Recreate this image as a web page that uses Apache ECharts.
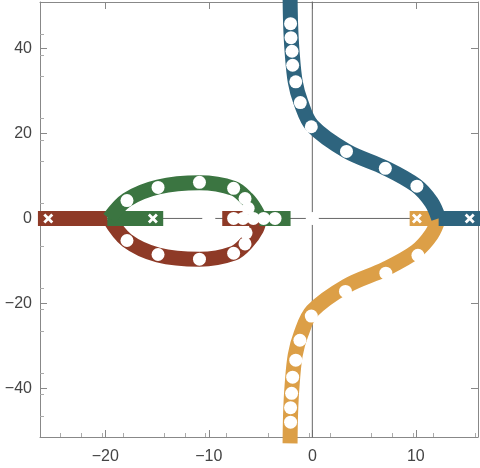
<!DOCTYPE html>
<html><head><meta charset="utf-8">
<script src="https://cdn.jsdelivr.net/npm/echarts@6/dist/echarts.min.js"></script>
<style>html,body{margin:0;padding:0;background:#fff}#c{width:480px;height:468px}</style>
</head><body><div id="c"></div>
<script>
const xTicks = [-20, -10, 0, 10];
const yTicks = [-40, -20, 0, 20, 40];
const blueCurve = [[-2.15,53],[-2.1,46],[-1.96,39.5],[-1.65,32.2],[-1.1,27.3],[0,21.8],[3.3,15.9],[7.05,11.9],[10.0,7.8],[11.5,3.8],[12.2,0]];
const blueAxis = [[12.2,0],[16.5,0]];
const orangeCurve = [[-2.15,-53],[-2.1,-46],[-1.96,-39.5],[-1.65,-32.2],[-1.1,-27.3],[0,-21.8],[3.3,-15.9],[7.05,-11.9],[10.0,-7.8],[11.5,-3.8],[12.2,0]];
const orangeAxis = [[9.4,0],[12.2,0]];
const greenLoop = [[-19.6,0],[-17.9,4.4],[-14.9,7.4],[-10.9,8.4],[-7.6,7.1],[-6.3,4.6],[-5.5,2],[-5.1,0]];
const greenAxis = [[-19.8,0],[-14.4,0]];
const greenAxis2 = [[-5.1,0],[-2.1,0]];
const redLoop = [[-19.6,0],[-17.9,-5.2],[-14.9,-8.6],[-10.9,-9.6],[-7.6,-8.2],[-6.3,-5.6],[-5.4,-2.5],[-5.1,0]];
const redAxis = [[-26.5,0],[-19.8,0]];
const redAxis2 = [[-8.7,0],[-5.1,0]];
const dots = [[-2.1,45.9],[-2.06,42.6],[-1.96,39.4],[-1.9,36.1],[-1.6,32.2],[-1.16,27.3],[-0.1,21.6],[3.3,15.8],[7.05,11.8],[10.1,7.6],
  [-2.1,-48],[-2.1,-44.6],[-2.0,-41.2],[-1.9,-37.4],[-1.6,-33.4],[-1.2,-28.7],[-0.1,-23],[3.2,-17.2],[7.1,-12.9],[10.2,-8.7],
  [-17.9,4.2],[-14.9,7.3],[-10.9,8.5],[-7.6,7.1],[-6.5,4.7],[-6.2,2.4],
  [-17.9,-5.2],[-14.9,-8.5],[-10.9,-9.6],[-7.6,-8.2],[-6.5,-6.0],[-6.4,-3.4],
  [-7.6,0],[-6.7,0],[-5.7,0],[-4.7,0],[-3.6,0],[-10,0],[0,0]];
const crosses = [[-25.5,0],[-15.4,0],[10.1,0],[15.2,0]];
const W = 15;
function ln(data, color, smooth){return {type:'line',data,smooth:smooth?0.35:false,symbol:'none',lineStyle:{width:W,color,cap:'butt',opacity:1},z:3,silent:true};}
const tl = {color:'#444',fontSize:16,fontFamily:'Liberation Sans'};
const ax = {lineStyle:{color:'#888',width:1}};
const tk = (vals)=>({inside:true,length:7,customValues:vals,lineStyle:{color:'#888'}});
const chart = echarts.init(document.getElementById('c'));
chart.setOption({
  animation:false,
  grid:{left:40,right:2,top:2,bottom:31},
  xAxis:[{type:'value',min:-26.3,max:16,interval:10,position:'bottom',axisLine:{onZero:false,...ax},
    minorTick:{show:true,splitNumber:5,length:4,lineStyle:{color:'#aaa'}},
    splitLine:{show:false},axisLabel:{...tl,margin:12,customValues:xTicks,formatter:v=>v<0?'\u2212'+(-v):v},axisTick:tk(xTicks)},
   {type:'value',min:-26.3,max:16,position:'top',axisLine:{onZero:false,...ax},axisTick:tk(xTicks),axisLabel:{show:false},splitLine:{show:false}}],
  yAxis:[{type:'value',min:-51.5,max:51,interval:20,position:'left',axisLine:{onZero:false,...ax},
    axisTick:tk(yTicks),minorTick:{show:true,splitNumber:4,length:4,lineStyle:{color:'#aaa'}},
    splitLine:{show:false},axisLabel:{...tl,margin:8,customValues:yTicks,formatter:v=>v<0?'\u2212'+(-v):v}},
   {type:'value',min:-51.5,max:51,position:'right',axisLine:{onZero:false,...ax},axisTick:tk(yTicks),axisLabel:{show:false},splitLine:{show:false}}],
  series:[
    {type:'line',data:[[0,-60],[0,60]],symbol:'none',lineStyle:{color:'#666',width:1},z:1,silent:true},
    {type:'line',data:[[-30,0],[20,0]],symbol:'none',lineStyle:{color:'#666',width:1},z:1,silent:true},
    ln(redAxis,'#8e3a27'),ln(redAxis2,'#8e3a27'),ln(redLoop,'#8e3a27',true),
    ln(greenAxis,'#3b7541'),ln(greenAxis2,'#3b7541'),ln(greenLoop,'#3b7541',true),
    ln(orangeAxis,'#dc9f47'),ln(orangeCurve,'#dc9f47',true),
    ln(blueAxis,'#2e647e'),ln(blueCurve,'#2e647e',true),
    {type:'scatter',data:dots,symbol:'circle',symbolSize:13,itemStyle:{color:'#fff',opacity:1},z:5,silent:true},
    {type:'scatter',data:crosses,symbol:'path://M2,0L5,3L8,0L10,2L7,5L10,8L8,10L5,7L2,10L0,8L3,5L0,2Z',symbolSize:10,itemStyle:{color:'#fff',opacity:1},z:6,silent:true}
  ]
});
</script></body></html>
